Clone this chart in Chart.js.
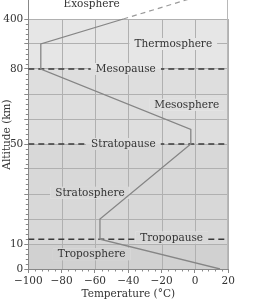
<!DOCTYPE html>
<html>
<head>
<meta charset="utf-8">
<script src="https://cdn.jsdelivr.net/npm/chart.js@4"></script>
<style>
  html, body { margin: 0; padding: 0; background: #fff; }
  #wrap { width: 273px; height: 300px; }
</style>
</head>
<body>
<div id="wrap"><canvas id="myChart"></canvas></div>
<script>
// temperature profile (temp in °C, altitude in axis steps)
var profileTemp = [15, -57, -57, -2.5, -2.5, -92.5, -92.5, -43];
var profileStep = [0, 1.19, 2, 5, 5.58, 8, 9, 10];
// dashed part in the exosphere
var exoTemp = [-43, -3.4];
var exoStep = [10, 10.8];

// pauses (dashed boundaries)
var pauseNames = ['Tropopause', 'Stratopause', 'Mesopause'];
var pauseStep = [1.19, 5, 8];

// altitude ticks: axis step -> km label
var altTickSteps = [0, 1, 5, 8, 10];
var altTickText = ['0', '10', '50', '80', '400'];

// shaded layers (axis steps)
var layerFrom = [0, 1, 5, 8];
var layerTo = [1, 5, 8, 10];

// layer names and where they sit (temp, step)
var labelText = ['Exosphere', 'Thermosphere', 'Mesopause', 'Mesosphere', 'Stratopause', 'Stratosphere', 'Tropopause', 'Troposphere'];
var labelTemp = [-62, -13, -41.5, -5, -43, -63, -14, -62];
var labelStep = [10.62, 9, 8, 6.57, 5, 3.05, 1.26, 0.59];

var layerColors = ['#d1d1d1', '#d8d8d8', '#dedede', '#e6e6e6'];
var serif = '"DejaVu Serif", "Liberation Serif", serif';

function toPoints(xs, ys) {
    var out = [];
    for (var i = 0; i < xs.length; i++) out.push({x: xs[i], y: ys[i]});
    return out;
}

function paintLayers(ctx, xs, ys) {
    for (var i = 0; i < layerFrom.length; i++) {
        var top = ys.getPixelForValue(layerTo[i]);
        var bot = ys.getPixelForValue(layerFrom[i]);
        ctx.fillStyle = layerColors[i];
        ctx.fillRect(xs.left, top, xs.right - xs.left, bot - top);
    }
}

var datasets = [
    {data: toPoints(profileTemp, profileStep), borderColor: '#858585', borderWidth: 1.3},
    {data: toPoints(exoTemp, exoStep), borderColor: '#9a9a9a', borderWidth: 1.2, borderDash: [5, 4]}
];
pauseStep.forEach(function (s) {
    datasets.push({data: toPoints([-100, 20], [s, s]), borderColor: '#3a3a3a', borderWidth: 1.4, borderDash: [6, 4]});
});
datasets.forEach(function (d) { d.showLine = true; d.pointRadius = 0; d.fill = false; });

var backdrop = {
    id: 'backdrop',
    beforeDraw: function (chart) {
        var ctx = chart.ctx, xs = chart.scales.x, ys = chart.scales.y;
        ctx.save();
        paintLayers(ctx, xs, ys);
        // vertical grid only inside the shaded part
        ctx.strokeStyle = '#b0b0b0';
        ctx.lineWidth = 1;
        var top = ys.getPixelForValue(10);
        xs.ticks.forEach(function (t) {
            var px = Math.round(xs.getPixelForValue(t.value)) + 0.5;
            ctx.beginPath(); ctx.moveTo(px, top); ctx.lineTo(px, ys.bottom); ctx.stroke();
        });
        ctx.restore();
    },
    afterDatasetDraw: function (chart, args) {
        if (args.index !== 2) return;
        var ctx = chart.ctx, xs = chart.scales.x, ys = chart.scales.y;
        ctx.save();
        ctx.font = '10.5px ' + serif;
        ctx.textAlign = 'center';
        ctx.textBaseline = 'middle';
        for (var i = 0; i < labelText.length; i++) {
            var cx = xs.getPixelForValue(labelTemp[i]);
            var cy = ys.getPixelForValue(labelStep[i]);
            var w = ctx.measureText(labelText[i]).width + 10;
            ctx.save();
            ctx.beginPath();
            ctx.rect(cx - w / 2, cy - 6, w, 12);
            ctx.clip();
            ctx.fillStyle = '#fff';
            ctx.fillRect(cx - w / 2, cy - 6, w, 12);
            paintLayers(ctx, xs, ys);
            ctx.restore();
            ctx.fillStyle = '#333';
            ctx.fillText(labelText[i], cx, cy + 0.5);
        }
        ctx.restore();
    },
    afterDraw: function (chart) {
        var ctx = chart.ctx, xs = chart.scales.x, ys = chart.scales.y;
        ctx.save();
        ctx.lineWidth = 1;
        // right frame
        var rx = Math.round(xs.right) - 0.5;
        ctx.strokeStyle = '#b8b8b8';
        ctx.beginPath(); ctx.moveTo(rx, 0); ctx.lineTo(rx, ys.bottom); ctx.stroke();
        // minor ticks
        ctx.strokeStyle = '#888';
        for (var v = 0; v < 10; v += 0.2) {
            if (Math.abs(v - Math.round(v)) < 0.01) continue;
            var py = Math.round(ys.getPixelForValue(v)) + 0.5;
            ctx.beginPath(); ctx.moveTo(xs.left - 2.5, py); ctx.lineTo(xs.left, py); ctx.stroke();
        }
        for (var t = -100; t <= 20; t += 4) {
            if (t % 20 === 0) continue;
            var px = Math.round(xs.getPixelForValue(t)) + 0.5;
            ctx.beginPath(); ctx.moveTo(px, ys.bottom); ctx.lineTo(px, ys.bottom + 2.5); ctx.stroke();
        }
        ctx.restore();
    }
};

var ctx = document.getElementById('myChart').getContext('2d');
var myChart = new Chart(ctx, {
    type: 'scatter',
    data: {datasets: datasets},
    options: {
        responsive: true,
        maintainAspectRatio: false,
        animation: false,
        layout: {padding: {left: 0, right: 44.7, top: 0, bottom: 0}},
        plugins: {legend: {display: false}, tooltip: {enabled: false}},
        scales: {
            x: {
                type: 'linear', min: -100, max: 20,
                afterFit: function (s) { s.height = 31; s.paddingLeft = 0; s.paddingRight = 0; },
                ticks: {
                    stepSize: 20, padding: 2, color: '#333', maxRotation: 0, minRotation: 0, autoSkip: false,
                    font: {family: serif, size: 10.5},
                    callback: function (v) { return v < 0 ? '\u2212' + Math.abs(v) : String(v); }
                },
                grid: {drawOnChartArea: false, tickLength: 4, tickColor: '#888'},
                border: {color: '#888'},
                title: {display: true, text: 'Temperature (°C)', color: '#333', padding: 0,
                        font: {family: serif, size: 10.5, lineHeight: 1}}
            },
            y: {
                type: 'linear', min: 0, max: 10.76,
                afterFit: function (s) { s.width = 28.3; s.paddingTop = 0; s.paddingBottom = 0; },
                ticks: {
                    stepSize: 1, includeBounds: false, padding: 1, color: '#333',
                    font: {family: serif, size: 10.5},
                    callback: function (v) {
                        var k = altTickSteps.indexOf(v);
                        return k >= 0 ? altTickText[k] : '';
                    }
                },
                grid: {
                    tickLength: 4,
                    color: function (c) { return c.tick && c.tick.value <= 10 ? '#b0b0b0' : 'rgba(0,0,0,0)'; },
                    tickColor: function (c) { return c.tick && c.tick.value <= 10 ? '#888' : 'rgba(0,0,0,0)'; }
                },
                border: {color: '#888'},
                title: {display: true, text: 'Altitude (km)', color: '#333', padding: {top: 1, bottom: 0},
                        font: {family: serif, size: 10.5}}
            }
        }
    },
    plugins: [backdrop]
});
</script>
</body>
</html>
